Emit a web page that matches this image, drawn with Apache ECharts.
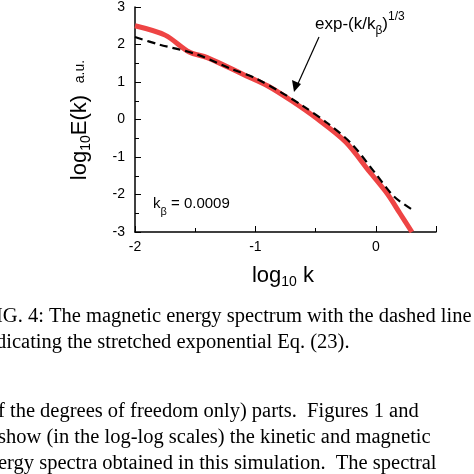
<!DOCTYPE html>
<html><head><meta charset="utf-8">
<script src="https://cdn.jsdelivr.net/npm/echarts@6/dist/echarts.min.js"></script>
<style>html,body{margin:0;background:#fff}#c{width:474px;height:474px}</style></head>
<body><div id="c"></div>
<script>
const xTicks=[-2,-1,0];
const yTicks=[-3,-2,-1,0,1,2,3];
const redX=[-2,-1.75,-1.55,-1.4,-1.1,-0.9,-0.7,-0.5,-0.25,-0.05,0.1,0.2,0.3];
const redY=[2.5,2.25,1.8,1.65,1.2,0.9,0.5,0.05,-0.6,-1.4,-2.0,-2.5,-3.0];
const dashX=[-2,-1.8,-1.5,-1.2,-1,-0.8,-0.6,-0.4,-0.2,0,0.15,0.3];
const dashY=[2.2,2.0,1.75,1.35,1.1,0.75,0.35,-0.1,-0.65,-1.45,-2.05,-2.4];
const chart=echarts.init(document.getElementById('c'));
const ff='Liberation Sans';
const serif='Liberation Serif';
const M=(fs)=>({fontSize:fs,fontFamily:ff,color:'#000',lineHeight:26,verticalAlign:'middle'});
const S=(fs)=>({fontSize:fs,fontFamily:ff,color:'#000',lineHeight:26,verticalAlign:'bottom'});
const P=(fs)=>({fontSize:fs,fontFamily:ff,color:'#000',lineHeight:26,verticalAlign:'top'});
chart.setOption({
 animation:false,
 grid:{left:135,top:6,width:301,height:226},
 xAxis:{type:'value',min:-2,max:0.5,interval:1,
  axisLine:{onZero:false,lineStyle:{color:'#000',width:1.5}},
  axisTick:{inside:true,length:6,lineStyle:{color:'#000'}},
  minorTick:{show:true,splitNumber:2,length:4,lineStyle:{color:'#000'}},
  splitLine:{show:false},
  axisLabel:{color:'#000',fontFamily:ff,fontSize:14,margin:8,formatter:v=>xTicks.includes(v)?String(v):''}},
 yAxis:{type:'value',min:-3,max:3,interval:1,
  axisLine:{show:true,onZero:false,lineStyle:{color:'#000',width:1.5}},
  axisTick:{show:true,inside:true,length:6,lineStyle:{color:'#000'}},
  minorTick:{show:true,splitNumber:2,length:4,lineStyle:{color:'#000'}},
  splitLine:{show:false},
  axisLabel:{color:'#000',fontFamily:ff,fontSize:14,margin:10,formatter:v=>yTicks.includes(v)?String(v):''}},
 series:[
  {type:'line',data:redX.map((x,i)=>[x,redY[i]]),showSymbol:false,smooth:0.3,lineStyle:{color:'#ee4444',width:5},z:2},
  {type:'line',data:dashX.map((x,i)=>[x,dashY[i]]),showSymbol:false,smooth:0.3,lineStyle:{color:'#000',width:2.2,type:[8,5]},z:3}
 ],
 graphic:[
  {type:'text',x:80,y:120,rotation:Math.PI/2,style:{text:'{m|log}{s|10}{m|E(k)}{a|   a.u.}',align:'center',verticalAlign:'middle',
    rich:{m:M(22),s:S(14),a:M(14)}}},
  {type:'text',x:283,y:276,style:{text:'{m|log}{s|10}{m| k}',align:'center',verticalAlign:'middle',
    rich:{m:M(22),s:S(14)}}},
  {type:'text',x:315,y:24,style:{text:'{m|exp-(k/k}{s|β}{m|)}{p|1/3}',verticalAlign:'middle',
    rich:{m:M(17),s:S(12),p:P(12)}}},
  {type:'text',x:153,y:204,style:{text:'{m|k}{s|β}{m| = 0.0009}',verticalAlign:'middle',
    rich:{m:M(15),s:S(11)}}},
  {type:'line',shape:{x1:319,y1:37,x2:296,y2:88},style:{stroke:'#000',lineWidth:1.2}},
  {type:'polygon',shape:{points:[[294,92],[292,80],[301,84]]},style:{fill:'#000'}},
  {type:'text',x:-4,y:317,style:{text:'IG. 4: The magnetic energy spectrum with the dashed line',font:'20.5px '+serif,fill:'#000',verticalAlign:'middle'}},
  {type:'text',x:-4,y:343,style:{text:'dicating the stretched exponential Eq. (23).',font:'20.5px '+serif,fill:'#000',verticalAlign:'middle'}},
  {type:'text',x:-2,y:412,style:{text:'f the degrees of freedom only) parts.  Figures 1 and',font:'20.5px '+serif,fill:'#000',verticalAlign:'middle'}},
  {type:'text',x:-2,y:438,style:{text:'show (in the log-log scales) the kinetic and magnetic',font:'20.5px '+serif,fill:'#000',verticalAlign:'middle'}},
  {type:'text',x:-2,y:464,style:{text:'ergy spectra obtained in this simulation.  The spectral',font:'20.5px '+serif,fill:'#000',verticalAlign:'middle'}}
 ]
});
</script></body></html>
